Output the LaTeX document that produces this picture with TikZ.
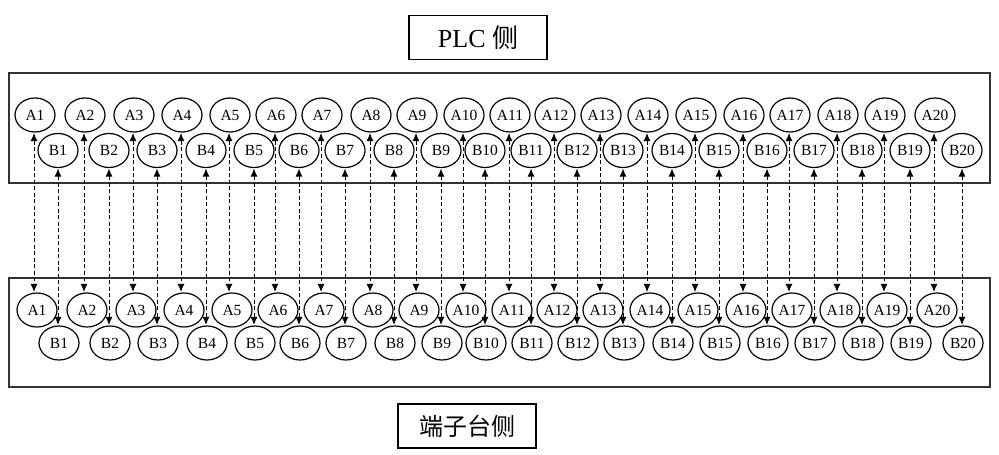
\documentclass[tikz,border=0pt]{standalone}
\usepackage{fontspec}
\setmainfont{Liberation Serif}
\newfontfamily\cjk{Noto Sans CJK SC}
\usetikzlibrary{arrows.meta,shapes.geometric}
\begin{document}
\begin{tikzpicture}[x=1pt,y=1pt,
  port/.style={draw,ellipse,line width=1.2pt,minimum width=40pt,minimum height=34pt,inner sep=0pt,font=\fontsize{15.5}{16}\selectfont},
  panel/.style={draw=black!80,line width=1.4pt},
  titlebox/.style={draw,line width=1.3pt,minimum width=138pt,minimum height=44pt,inner sep=0pt},
  link/.style={dashed,dash pattern=on 4pt off 2.5pt,line width=0.9pt,{Latex[length=8pt,width=7pt]}-{Latex[length=8pt,width=7pt]},shorten <=0.5pt,shorten >=0.5pt}]
\useasboundingbox (0,0) rectangle (999,-455);
\node[titlebox,font=\fontsize{26}{28}\selectfont] (t1) at (478,-37.5) {PLC {\cjk 侧}};
\node[titlebox,font=\cjk\fontsize{24}{26}\selectfont] (t2) at (467,-426) {端子台侧};
\node[panel,draw,minimum width=981pt,minimum height=110pt,inner sep=0pt] (p1) at (499.5,-128) {};
\node[panel,draw,minimum width=981pt,minimum height=109pt,inner sep=0pt] (p2) at (499.5,-332.5) {};
\foreach \i/\xa/\xb in {1/35/58,2/85/109,3/134/157,4/182/206,5/230/254,6/276/299,7/322/345,8/371/394,9/417/441,10/464/485,11/510/531,12/555/577,13/601/623,14/648/672,15/696/719,16/744/767,17/790/814,18/838/862,19/885/910,20/935/962}{
  \node[port] (pa\i) at (\xa,-115) {A\i};
  \node[port] (pb\i) at (\xb,-150.5) {B\i};
  \node[port] (ta\i) at (\xa+2,-310) {A\i};
  \node[port] (tb\i) at (\xb+1,-343) {B\i};
  \coordinate (pas\i) at (\xa-1,-132);
  \coordinate (tan\i) at (\xa-1,-293);
  \draw[link] (pa\i.south -| pas\i) -- (ta\i.north -| tan\i);
  \draw[link] (pb\i.south) -- (tb\i.north -| pb\i.south);
}
\end{tikzpicture}
\end{document}
